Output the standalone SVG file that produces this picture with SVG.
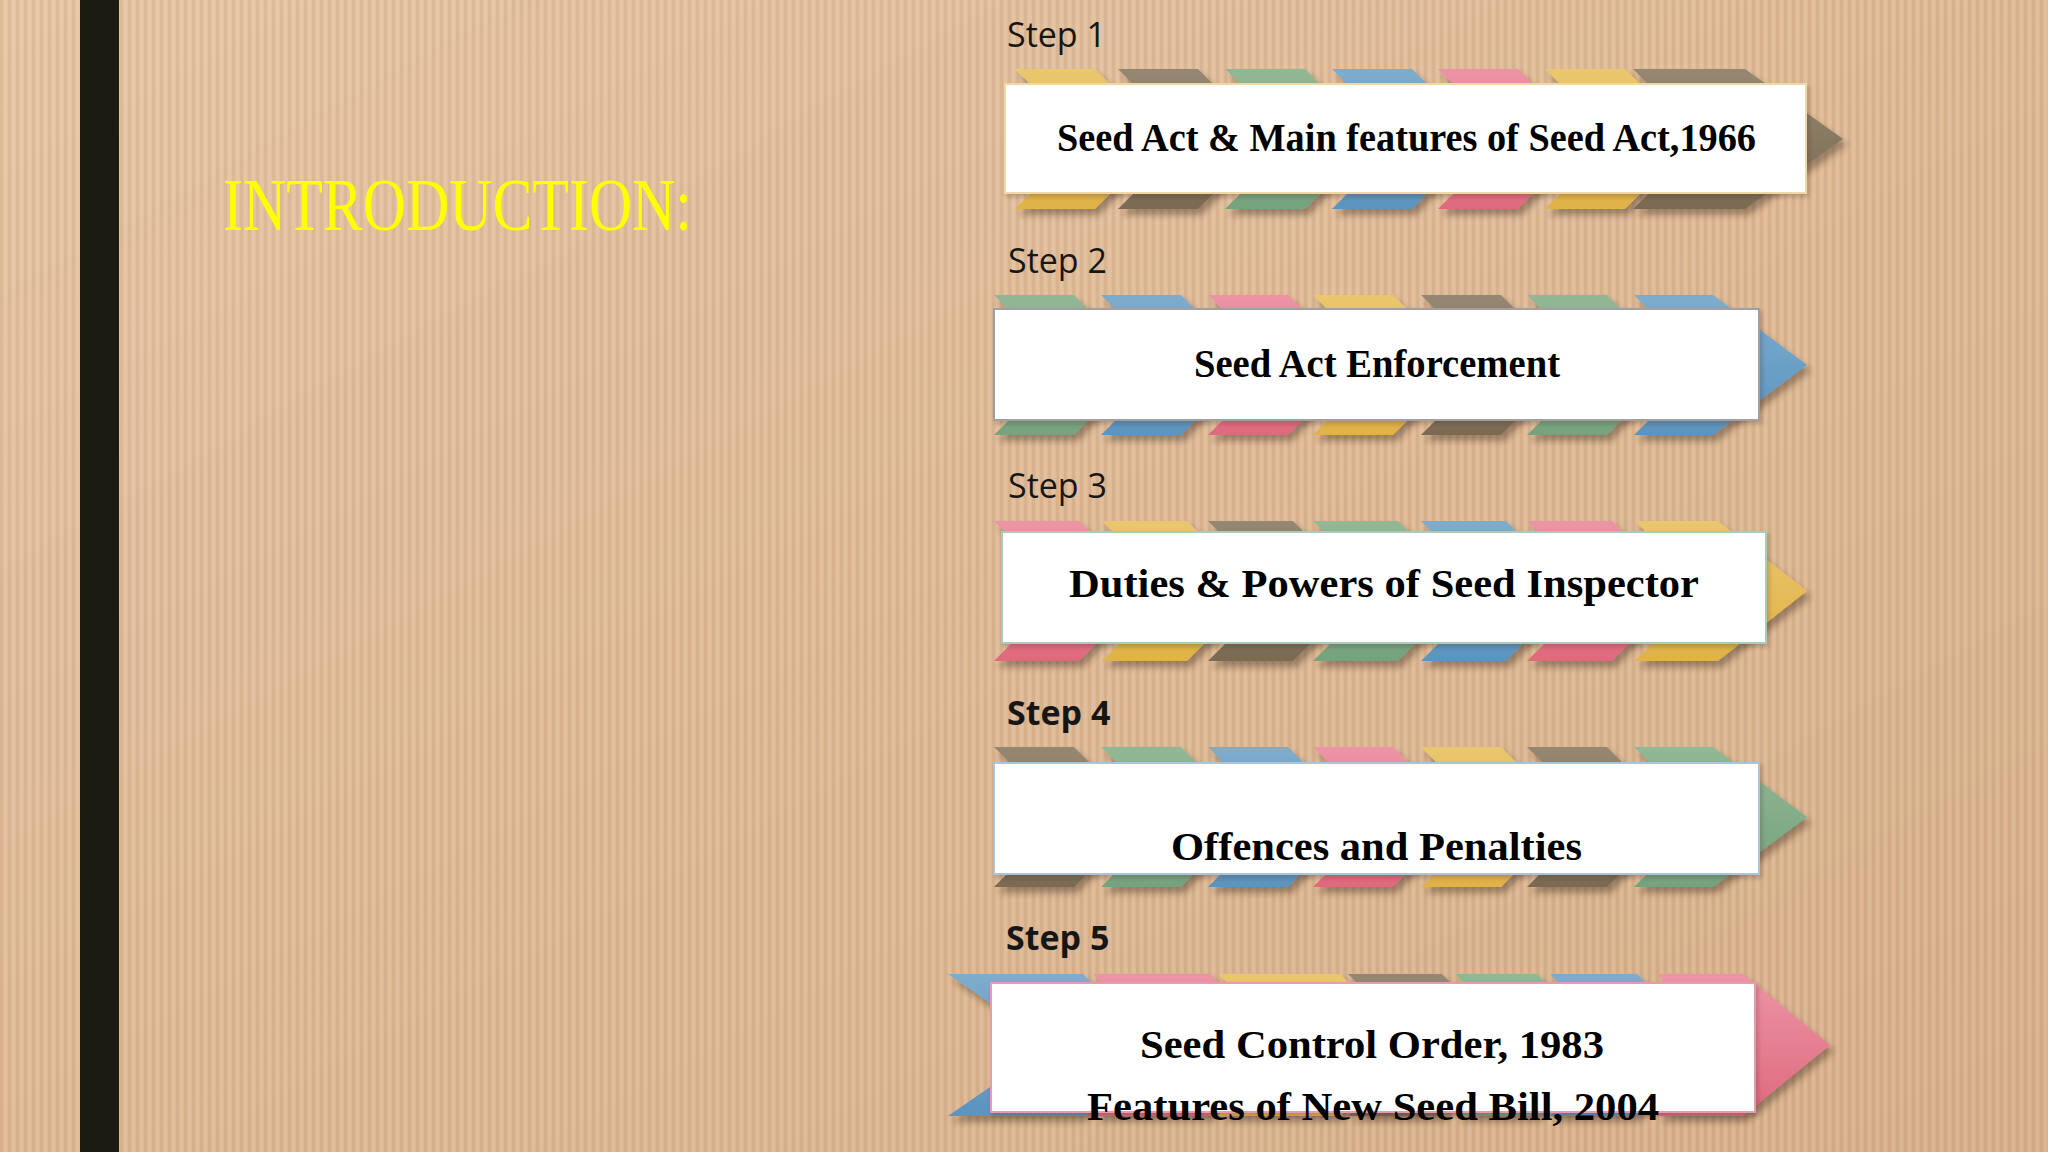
<svg xmlns="http://www.w3.org/2000/svg" xmlns:xlink="http://www.w3.org/1999/xlink" width="2048" height="1152" viewBox="0 0 2048 1152">
  <style>
    .step { font-family: "Open Sans", "Noto Sans", sans-serif; font-size: 34px; fill: #161616; }
    .stepb { font-weight: bold; }
    .lbl { font-family: "Liberation Serif", "Times New Roman", serif; font-weight: bold; font-size: 39px; fill: #000; }
    .box { fill: #ffffff; stroke-width: 2; }
    .title { font-family: "Liberation Serif", "Times New Roman", serif; font-size: 74px; fill: #ffff00; }
  </style>
  <defs>
    <linearGradient id="bg" x1="0" y1="0" x2="1" y2="1">
      <stop offset="0" stop-color="#E5C5A4"/>
      <stop offset="0.5" stop-color="#DEBA96"/>
      <stop offset="1" stop-color="#D7B08B"/>
    </linearGradient>
    <pattern id="stripes" patternUnits="userSpaceOnUse" width="8" height="8">
      <rect x="0" y="0" width="3" height="8" fill="#7a4f28" fill-opacity="0.08"/>
      <rect x="4" y="0" width="3" height="8" fill="#fff3e4" fill-opacity="0.10"/>
    </pattern>
    <linearGradient id="gY" x1="0" y1="0" x2="0" y2="1">
      <stop offset="0" stop-color="#EAC66E"/><stop offset="1" stop-color="#E0B246"/>
    </linearGradient>
    <linearGradient id="gBr" x1="0" y1="0" x2="0" y2="1">
      <stop offset="0" stop-color="#958771"/><stop offset="1" stop-color="#7A6A52"/>
    </linearGradient>
    <linearGradient id="gG" x1="0" y1="0" x2="0" y2="1">
      <stop offset="0" stop-color="#92B795"/><stop offset="1" stop-color="#75A37E"/>
    </linearGradient>
    <linearGradient id="gB" x1="0" y1="0" x2="0" y2="1">
      <stop offset="0" stop-color="#7DACCC"/><stop offset="1" stop-color="#5A94C0"/>
    </linearGradient>
    <linearGradient id="gP" x1="0" y1="0" x2="0" y2="1">
      <stop offset="0" stop-color="#EC94A6"/><stop offset="1" stop-color="#DF697D"/>
    </linearGradient>
    <filter id="sh" x="-10%" y="-20%" width="130%" height="150%">
      <feDropShadow dx="4" dy="6" stdDeviation="3" flood-color="#3a2814" flood-opacity="0.4"/>
    </filter>
    <filter id="shb" x="-5%" y="-10%" width="110%" height="130%">
      <feDropShadow dx="2" dy="3" stdDeviation="2" flood-color="#3a2814" flood-opacity="0.25"/>
    </filter>
    <polygon id="chevA" points="0,0 80,0 150,70 80,140 0,140 70,70"/>
    <polygon id="chevB" points="0,0 85,0 155,70 85,140 0,140 70,70"/>
  </defs>

  <!-- background -->
  <rect x="0" y="0" width="2048" height="1152" fill="url(#bg)"/>
  <rect x="0" y="0" width="2048" height="1152" fill="url(#stripes)"/>
  <rect x="80" y="0" width="39" height="1152" fill="#1B1B12"/>

  <g id="title">
    <text class="title" x="223" y="230" textLength="469" lengthAdjust="spacingAndGlyphs">INTRODUCTION:</text>
  </g>

  <!-- Step 1 -->
  <g id="step1">
    <text class="step" x="1007" y="47">Step 1</text>
    <g filter="url(#sh)">
      <use xlink:href="#chevA" x="1015" y="69" fill="url(#gY)"/>
      <use xlink:href="#chevA" x="1118" y="69" fill="url(#gBr)"/>
      <use xlink:href="#chevA" x="1225" y="69" fill="url(#gG)"/>
      <use xlink:href="#chevA" x="1332" y="69" fill="url(#gB)"/>
      <use xlink:href="#chevA" x="1438" y="69" fill="url(#gP)"/>
      <use xlink:href="#chevA" x="1545" y="69" fill="url(#gY)"/>
      <polygon points="1633,69 1745,69 1843,139 1745,209 1633,209 1703,139" fill="url(#gBr)"/>
    </g>
    <rect class="box" x="1005" y="84" width="801" height="109" stroke="#EFD8A6" filter="url(#shb)"/>
    <text class="lbl" x="1057" y="151" textLength="699" lengthAdjust="spacingAndGlyphs">Seed Act &amp; Main features of Seed Act,1966</text>
  </g>

  <!-- Step 2 -->
  <g id="step2">
    <text class="step" x="1008" y="273">Step 2</text>
    <g filter="url(#sh)">
      <use xlink:href="#chevA" x="994" y="295" fill="url(#gG)"/>
      <use xlink:href="#chevA" x="1101" y="295" fill="url(#gB)"/>
      <use xlink:href="#chevA" x="1208" y="295" fill="url(#gP)"/>
      <use xlink:href="#chevA" x="1313" y="295" fill="url(#gY)"/>
      <use xlink:href="#chevA" x="1421" y="295" fill="url(#gBr)"/>
      <use xlink:href="#chevA" x="1527" y="295" fill="url(#gG)"/>
      <polygon points="1634,295 1713,295 1807,365 1713,435 1634,435 1704,365" fill="url(#gB)"/>
    </g>
    <rect class="box" x="994" y="309" width="765" height="111" stroke="#A0A0A0" filter="url(#shb)"/>
    <text class="lbl" x="1194" y="377" font-size="38" textLength="366" lengthAdjust="spacingAndGlyphs">Seed Act Enforcement</text>
  </g>

  <!-- Step 3 -->
  <g id="step3">
    <text class="step" x="1008" y="498">Step 3</text>
    <g filter="url(#sh)">
      <use xlink:href="#chevB" x="994" y="521" fill="url(#gP)"/>
      <use xlink:href="#chevB" x="1102" y="521" fill="url(#gY)"/>
      <use xlink:href="#chevB" x="1208" y="521" fill="url(#gBr)"/>
      <use xlink:href="#chevB" x="1313" y="521" fill="url(#gG)"/>
      <use xlink:href="#chevB" x="1421" y="521" fill="url(#gB)"/>
      <use xlink:href="#chevB" x="1527" y="521" fill="url(#gP)"/>
      <polygon points="1635,521 1718,521 1807,591 1718,661 1635,661 1705,591" fill="url(#gY)"/>
    </g>
    <rect class="box" x="1002" y="532" width="764" height="111" stroke="#AACBB8" filter="url(#shb)"/>
    <text class="lbl" x="1069" y="597" font-size="40" textLength="630" lengthAdjust="spacingAndGlyphs">Duties &amp; Powers of Seed Inspector</text>
  </g>

  <!-- Step 4 -->
  <g id="step4">
    <text class="step stepb" x="1007" y="725">Step 4</text>
    <g filter="url(#sh)">
      <use xlink:href="#chevA" x="994" y="747" fill="url(#gBr)"/>
      <use xlink:href="#chevA" x="1101" y="747" fill="url(#gG)"/>
      <use xlink:href="#chevA" x="1208" y="747" fill="url(#gB)"/>
      <use xlink:href="#chevA" x="1313" y="747" fill="url(#gP)"/>
      <use xlink:href="#chevA" x="1421" y="747" fill="url(#gY)"/>
      <use xlink:href="#chevA" x="1527" y="747" fill="url(#gBr)"/>
      <polygon points="1634,747 1713,747 1807,817 1713,887 1634,887 1704,817" fill="url(#gG)"/>
    </g>
    <rect class="box" x="994" y="763" width="765" height="111" stroke="#A8C5DA" filter="url(#shb)"/>
    <text class="lbl" x="1171" y="860" font-size="40" textLength="411" lengthAdjust="spacingAndGlyphs">Offences and Penalties</text>
  </g>

  <!-- Step 5 -->
  <g id="step5">
    <text class="step stepb" x="1006" y="950">Step 5</text>
    <g filter="url(#sh)">
      <polygon points="948,974 1083,974 1153,1045 1083,1116 948,1116 1051,1045" fill="url(#gB)"/>
      <polygon points="1093,974 1210,974 1281,1045 1210,1116 1093,1116 1164,1045" fill="url(#gP)"/>
      <polygon points="1218,974 1340,974 1411,1045 1340,1116 1218,1116 1289,1045" fill="url(#gY)"/>
      <polygon points="1348,974 1442,974 1513,1045 1442,1116 1348,1116 1419,1045" fill="url(#gBr)"/>
      <polygon points="1455,974 1537,974 1608,1045 1537,1116 1455,1116 1526,1045" fill="url(#gG)"/>
      <polygon points="1550,974 1637,974 1708,1045 1637,1116 1550,1116 1621,1045" fill="url(#gB)"/>
      <polygon points="1657,974 1743,974 1830,1045 1743,1116 1657,1116 1728,1045" fill="url(#gP)"/>
    </g>
    <rect class="box" x="991" y="983" width="764" height="129" stroke="#E89BAE" filter="url(#shb)"/>
    <text class="lbl" x="1140" y="1058" font-size="40" textLength="464" lengthAdjust="spacingAndGlyphs">Seed Control Order, 1983</text>
    <text class="lbl" x="1087" y="1120" font-size="40" textLength="572" lengthAdjust="spacingAndGlyphs">Features of New Seed Bill, 2004</text>
  </g>

  <g id="connectors"/>
</svg>
